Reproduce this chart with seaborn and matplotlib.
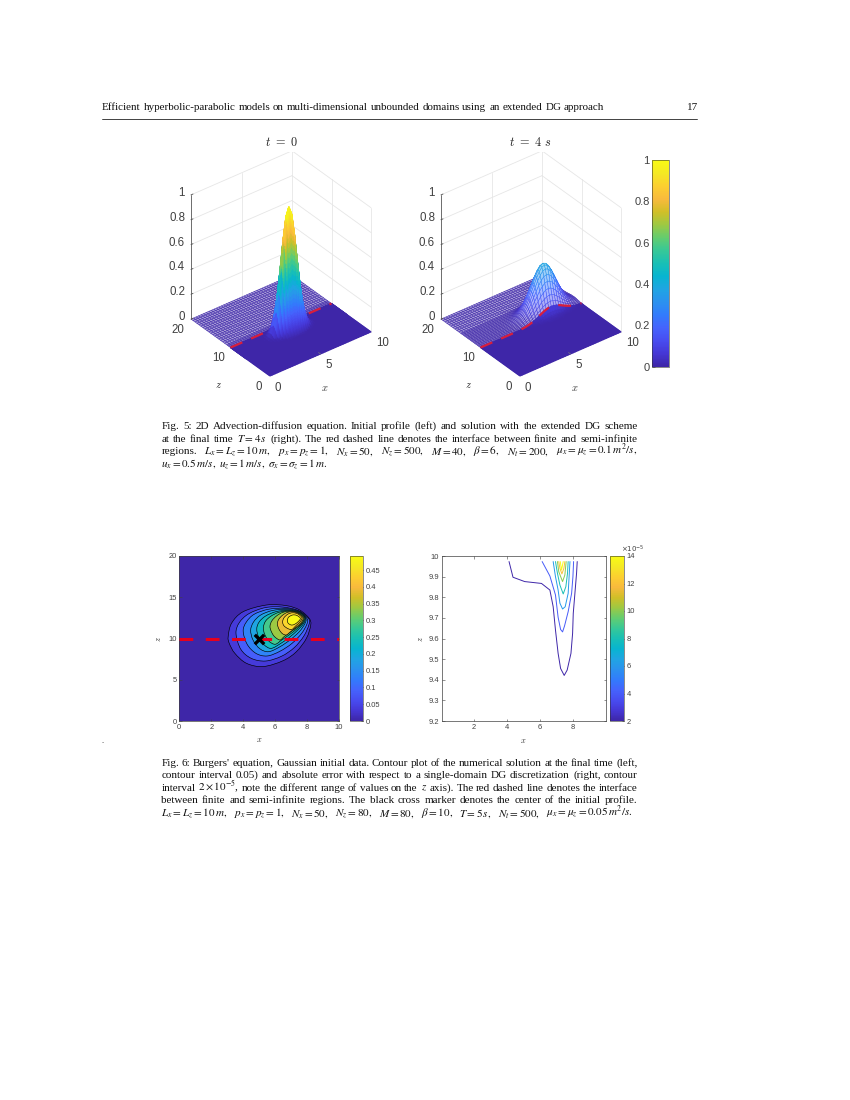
import numpy as np
import seaborn as sns
import matplotlib
matplotlib.use("Agg")
import matplotlib.pyplot as plt
from matplotlib.cm import ScalarMappable
from matplotlib.colors import LinearSegmentedColormap, Normalize
from matplotlib.patches import PathPatch
from matplotlib.path import Path
from mpl_toolkits.mplot3d import proj3d

# old parula, every 4th row of the matlab table
parula = LinearSegmentedColormap.from_list("parula", [
    (0.2422, 0.1504, 0.6603), (0.2706, 0.2147, 0.8364), (0.2813, 0.3006, 0.9414),
    (0.2699, 0.3892, 0.9906), (0.1963, 0.4847, 0.9892), (0.1687, 0.5703, 0.9359),
    (0.1248, 0.6459, 0.8883), (0.0297, 0.7082, 0.8163), (0.0964, 0.7500, 0.7120),
    (0.2161, 0.7843, 0.5923), (0.3909, 0.8029, 0.4354), (0.6174, 0.7876, 0.2612),
    (0.8203, 0.7498, 0.1535), (0.9728, 0.7298, 0.2394), (0.9892, 0.8136, 0.1885),
    (0.9597, 0.9135, 0.1423), (0.9769, 0.9839, 0.0805)])

# fig 5 surfaces, x and z profiles on the mesh nodes
x_nodes = np.arange(41) * 0.25
z_nodes_t0 = np.concatenate([np.arange(24) * 0.25, 6 + np.arange(81) * 0.05,
                             [10.25, 10.5, 10.75], 11 + np.arange(19) * 0.5])
z_nodes_t4 = np.concatenate([np.arange(61) * 0.25, 15.5 + np.arange(10) * 0.5])

u0_x = [0, 0, 0, 0, 0, 0, 0, 0, 0, .001, .002, .006, .018, .047, .105, .210, .368, .570, .779, .939, 1,
        .939, .779, .570, .368, .210, .105, .047, .018, .006, .002, .001, 0, 0, 0, 0, 0, 0, 0, 0, 0]
u0_rise = [.018, .022, .027, .033, .039, .047, .056, .066, .077, .090, .105, .122, .141, .162, .185, .210,
           .237, .266, .298, .332, .368, .406, .445, .486, .527, .570, .613, .655, .698, .739, .779, .817,
           .852, .885, .914, .939, .961, .978, .990, .9975, 1]
u0_z = [0] * 21 + [.001, .002, .006] + u0_rise + u0_rise[-2::-1] + [.006, .002, .001] + [0] * 19

u4_x = [0, 0, 0, 0, 0, 0, 0, 0, 0, 0, 0, .001, .002, .0045, .009, .017, .031, .055, .090, .143, .215,
        .308, .421, .548, .681, .806, .908, .976, 1, .976, .908, .806, .681, .548, .421, .308, .215,
        .143, .090, .055, .031]
u4_z = [0] * 31 + [0, .001, .002, .003, .007, .012, .021, .035, .055, .083,
                   .119, .162, .211, .262, .310, .350, .376, .385, .376, .350, .310, .262, .211, .162,
                   .119, .083, .055, .035, .021, .012, .003, .001, 0, 0, 0, 0, 0, 0, 0, 0]

z_ticks_up = [0, 0.2, 0.4, 0.6, 0.8, 1]

# fig 6 left, contour outlines (x, z)
c00 = [(3.06, 10.22), (3.27, 11.84), (4.0, 13.25), (5.46, 14.06), (6.71, 13.98), (7.54, 13.45), (8.13, 12.44),
       (8.23, 11.64), (7.96, 10.02), (7.33, 8.40), (6.5, 7.31), (5.25, 6.60), (4.21, 6.99), (3.48, 8.2), (3.13, 9.41)]
c05 = [(3.55, 10.6), (3.75, 11.9), (4.35, 13.0), (5.4, 13.75), (6.5, 13.8), (7.5, 13.35), (8.1, 12.4),
       (8.12, 11.7), (7.8, 10.3), (7.2, 8.9), (6.4, 7.85), (5.4, 7.27), (4.5, 7.6), (3.85, 8.7)]
c10 = [(4.0, 10.9), (4.2, 12.0), (4.7, 12.95), (5.6, 13.55), (6.6, 13.65), (7.5, 13.3), (8.0, 12.4),
       (7.98, 11.7), (7.65, 10.6), (7.05, 9.4), (6.3, 8.45), (5.5, 7.88), (4.8, 8.2), (4.25, 9.3)]
c15 = [(4.47, 11.0), (4.65, 12.0), (5.1, 12.85), (5.85, 13.4), (6.7, 13.52), (7.5, 13.25), (7.92, 12.45),
       (7.85, 11.75), (7.5, 10.8), (6.95, 9.85), (6.3, 9.0), (5.6, 8.4), (5.05, 8.75), (4.62, 9.8)]
c20 = [(4.85, 11.15), (5.0, 12.0), (5.4, 12.72), (6.05, 13.25), (6.8, 13.42), (7.5, 13.2), (7.88, 12.5),
       (7.78, 11.8), (7.4, 11.0), (6.9, 10.15), (6.35, 9.4), (5.75, 8.8), (5.3, 9.25), (4.98, 10.1)]
c25 = [(5.26, 11.3), (5.4, 12.1), (5.75, 12.72), (6.25, 13.18), (6.88, 13.36), (7.48, 13.15), (7.85, 12.52),
       (7.72, 11.85), (7.35, 11.15), (6.85, 10.4), (6.4, 9.8), (6.0, 9.3), (5.6, 9.7), (5.35, 10.5)]
c30 = [(5.68, 11.5), (5.8, 12.15), (6.1, 12.75), (6.5, 13.18), (7.0, 13.3), (7.45, 13.1), (7.8, 12.52),
       (7.67, 11.85), (7.3, 11.25), (6.9, 10.7), (6.55, 10.2), (6.3, 9.82), (5.95, 10.25), (5.75, 10.9)]
c35 = [(6.14, 11.75), (6.22, 12.3), (6.45, 12.8), (6.75, 13.15), (7.1, 13.24), (7.45, 13.05), (7.75, 12.5),
       (7.62, 11.9), (7.3, 11.35), (6.95, 10.8), (6.7, 10.43), (6.45, 10.6), (6.25, 11.1)]
c40 = [(6.47, 12.0), (6.55, 12.5), (6.8, 12.95), (7.1, 13.12), (7.42, 12.98), (7.68, 12.5), (7.55, 12.0),
       (7.3, 11.55), (7.05, 11.1), (6.8, 11.2), (6.55, 11.55)]
c45 = [(6.77, 12.2), (6.85, 12.6), (7.1, 12.85), (7.35, 12.8), (7.58, 12.45), (7.45, 12.05), (7.2, 11.7),
       (7.0, 11.64), (6.82, 11.85)]
filled_levels = [0, .05, .10, .15, .20, .25, .30, .35, .40, .45]
filled_outlines = [c00, c05, c10, c15, c20, c25, c30, c35, c40, c45]

# fig 6 right, error contours (x, z)
e2 = [(4.13, 9.973), (4.37, 9.897), (5.08, 9.876), (6.10, 9.867), (6.61, 9.835), (6.81, 9.754), (6.95, 9.641),
      (7.11, 9.528), (7.26, 9.455), (7.48, 9.421), (7.66, 9.447), (7.89, 9.528), (7.99, 9.625), (8.03, 9.722),
      (8.13, 9.819), (8.23, 9.916), (8.27, 9.973)]
e4 = [(6.14, 9.973), (6.61, 9.903), (6.95, 9.811), (7.11, 9.703), (7.26, 9.644), (7.38, 9.632), (7.50, 9.661),
      (7.72, 9.730), (7.93, 9.819), (8.01, 9.900), (8.05, 9.973)]
e6 = [(6.81, 9.973), (6.95, 9.900), (7.11, 9.835), (7.22, 9.771), (7.38, 9.743), (7.54, 9.754), (7.72, 9.819),
      (7.83, 9.973)]
e8 = [(6.95, 9.973), (7.07, 9.916), (7.22, 9.859), (7.42, 9.816), (7.58, 9.851), (7.68, 9.916), (7.72, 9.973)]
e10 = [(7.07, 9.973), (7.15, 9.924), (7.38, 9.876), (7.52, 9.908), (7.60, 9.973)]
e12 = [(7.15, 9.973), (7.22, 9.940), (7.34, 9.913), (7.46, 9.940), (7.52, 9.973)]
e14 = [(7.24, 9.973), (7.32, 9.932), (7.42, 9.973)]
error_levels = [2, 4, 6, 8, 10, 12, 14]
error_lines = [e2, e4, e6, e8, e10, e12, e14]

header = "Efficient hyperbolic-parabolic models on multi-dimensional unbounded domains using an extended DG approach"
caption5 = [
    r"Fig. 5: 2D Advection-diffusion equation. Initial profile (left) and solution with the extended DG scheme",
    r"at the final time $T=4\,s$ (right). The red dashed line denotes the interface between finite and semi-infinite",
    r"regions. $L_x=L_z=10\,m,$ $p_x=p_z=1,$ $N_x=50,$ $N_z=500,$ $M=40,$ $\beta=6,$ $N_t=200,$ $\mu_x=\mu_z=0.1\,m^2/s,$",
    r"$u_x=0.5\,m/s,$ $u_z=1\,m/s,$ $\sigma_x=\sigma_z=1\,m.$",
]
caption6 = [
    r"Fig. 6: Burgers' equation, Gaussian initial data. Contour plot of the numerical solution at the final time (left,",
    r"contour interval 0.05) and absolute error with respect to a single-domain DG discretization (right, contour",
    r"interval $2\times10^{-5}$, note the different range of values on the $z$ axis). The red dashed line denotes the interface",
    r"between finite and semi-infinite regions. The black cross marker denotes the center of the initial profile.",
    r"$L_x=L_z=10\,m,$ $p_x=p_z=1,$ $N_x=50,$ $N_z=80,$ $M=80,$ $\beta=10,$ $T=5\,s,$ $N_t=500,$ $\mu_x=\mu_z=0.05\,m^2/s.$",
]

sns.set_theme(style="white")
plt.rcParams["font.family"] = ["Liberation Sans", "DejaVu Sans"]
plt.rcParams["mathtext.fontset"] = "stix"

W, H = 850, 1100
TICK = "#404040"
fig = plt.figure(figsize=(W / 100, H / 100), dpi=100, facecolor="white")

page = fig.add_axes([0, 0, 1, 1], zorder=10)
page.set_xlim(0, W)
page.set_ylim(H, 0)
page.set_axis_off()
page.patch.set_alpha(0)
renderer = fig.canvas.get_renderer()


def rect(left, top, right, bottom):
    return [left / W, 1 - bottom / H, (right - left) / W, (bottom - top) / H]


def line_of_text(text, y, left, right, size=8.0, justify=True):
    words = text.split(" ")
    items = [page.text(left, y, w, family="Liberation Serif", fontsize=size, color="#111111",
                       va="baseline", ha="left") for w in words]
    widths = [t.get_window_extent(renderer).width for t in items]
    gap = (right - left - sum(widths)) / (len(words) - 1) if justify else 2.6
    pos = left
    for t, w in zip(items, widths):
        t.set_x(pos)
        pos += w + gap


def to_px(ax, x, y, z):
    xs, ys, _ = proj3d.proj_transform(x, y, z, ax.get_proj())
    dx, dy = ax.transData.transform((xs, ys))
    return dx, H - dy


def fit_box(ax, origin, left_corner, right_corner):
    # scale the square 3d axes so its floor corners land where the page has them
    size = 400.0
    ax.set_position(rect(100, 100, 100 + size, 100 + size))
    x_l = to_px(ax, 0, 20, 0)[0]
    x_r = to_px(ax, 10, 0, 0)[0]
    size *= (right_corner[0] - left_corner[0]) / (x_r - x_l)
    ax.set_position(rect(100, 100, 100 + size, 100 + size))
    ox, oy = to_px(ax, 0, 0, 0)
    left = 100 + origin[0] - ox
    top = 100 + origin[1] - oy
    ax.set_position(rect(left, top, left + size, top + size))


def surface_panel(u_x, u_z, z_nodes, origin, title, title_x, hidden):
    ax = fig.add_axes([.1, .1, .4, .4 * W / H], projection="3d", computed_zorder=False, proj_type="ortho")
    ax.set_facecolor("none")
    ax.set_axis_off()
    ax.view_init(elev=34.1, azim=-127.9)
    ax.set_box_aspect((128, 128.6, 150))

    # walls
    grid = "#e6e6e6"
    for level in z_ticks_up[1:]:
        ax.plot([0, 10], [20, 20], [level, level], color=grid, lw=.6, zorder=1)
        ax.plot([10, 10], [20, 0], [level, level], color=grid, lw=.6, zorder=1)
    for gx, gz in [(5, 20), (10, 20), (10, 10), (10, 0)]:
        ax.plot([gx, gx], [gz, gz], [0, 1], color=grid, lw=.6, zorder=1)

    X, Z = np.meshgrid(x_nodes, z_nodes)
    U = np.outer(u_z, u_x)
    cell = (U[:-1, :-1] + U[1:, :-1] + U[:-1, 1:] + U[1:, 1:]) / 4
    cell = np.pad(cell, ((0, 1), (0, 1)), mode="edge")
    edges = parula(np.clip(cell, 0, 1))
    i10 = np.argmin(np.abs(z_nodes - 10))

    # sparse part behind the interface: mesh lines, tinted faces stand in for the unresolved lines
    back_faces = .55 + .45 * edges[i10:]
    back_faces[..., 3] = 1
    back = ax.plot_surface(X[i10:], Z[i10:], U[i10:], rstride=1, cstride=1, facecolors=back_faces,
                           shade=False, linewidth=.35, zorder=2)
    back.set_edgecolor(edges[i10:][:-1, :-1].reshape(-1, 4))

    # dense part in front of it reads as solid
    front = ax.plot_surface(X[:i10 + 1], Z[:i10 + 1], U[:i10 + 1], rstride=1, cstride=1,
                            facecolors=edges[:i10 + 1], shade=False, linewidth=.8, zorder=2.5)
    front.set_edgecolor(edges[:i10 + 1][:-1, :-1].reshape(-1, 4))

    # interface z = 10, part of it sits behind the peak at t = 0
    red_u = U[i10].copy()
    red_u[(x_nodes > hidden[0]) & (x_nodes < hidden[1])] = np.nan
    ax.plot(x_nodes, np.full_like(x_nodes, 10.0), red_u, color="#d81e3c", lw=1.6, zorder=3,
            dashes=(5.8, 4.3))

    # z axis and its ticks
    ax.plot([0, 0], [20, 20], [0, 1], color="#555555", lw=.6, zorder=4)
    for level in z_ticks_up:
        ax.plot([0, .2], [20, 20], [level, level], color="#555555", lw=.6, zorder=4)
    for tx in [5]:
        ax.plot([tx, tx], [0, .5], [0, 0], color="#777777", lw=.5, zorder=4)

    ax.set_xlim(0, 10)
    ax.set_ylim(0, 20)
    ax.set_zlim(0, 1)
    fit_box(ax, origin, (origin[0] - 79, origin[1] - 57), (origin[0] + 101, origin[1] - 44))

    font = dict(fontsize=8.3, color=TICK, va="center", family="Liberation Sans")
    for level in z_ticks_up:
        px, py = to_px(ax, 0, 20, level)
        page.text(px - 6, py - 2, f"{level:g}", ha="right", **font)
    for tz, off in [(20, -13), (10, -12), (0, -11)]:
        px, py = to_px(ax, 0, tz, 0)
        page.text(px + off, py + 10.5, f"{tz}", ha="center", **font)
    for tx, off in [(0, 7.5), (5, 8.5), (10, 12)]:
        px, py = to_px(ax, tx, 0, 0)
        page.text(px + off, py + 11.5, f"{tx}", ha="center", **font)

    page.text(title_x, 143, title, fontsize=8.8, ha="center", va="center", color="#222222", math_fontfamily="cm")
    page.text(origin[0] - 52, 385, "$z$", fontsize=7.5, ha="center", va="center", color="#333333", math_fontfamily="cm")
    page.text(origin[0] + 55, 388, "$x$", fontsize=7.5, ha="center", va="center", color="#333333", math_fontfamily="cm")
    return ax


surface_panel(u0_x, u0_z, z_nodes_t0, (270, 376), r"$t\ =\ 0$", 281.5, (3.55, 7.6))
surface_panel(u4_x, u4_z, z_nodes_t4, (520, 376), r"$t\ =\ 4\ s$", 530, (20, 21))


def colorbar(box, vmin, vmax, ticks, labels, side, size):
    cax = fig.add_axes(rect(*box))
    cb = fig.colorbar(ScalarMappable(Normalize(vmin, vmax), parula), cax=cax)
    cax.yaxis.set_ticks_position(side)
    cax.set_yticks(ticks, labels)
    cax.tick_params(axis="y", direction="in", length=1.8, width=.4, pad=2, labelsize=size, colors=TICK)
    cax.minorticks_off()
    cb.outline.set_linewidth(.4)
    cb.outline.set_edgecolor("#333333")
    return cax


colorbar((652.3, 160, 669, 366.7), 0, 1, z_ticks_up, [f"{t:g}" for t in z_ticks_up], "left", 8.0)


def frame(ax):
    for sp in ax.spines.values():
        sp.set_visible(True)
        sp.set_linewidth(.5)
        sp.set_color("#404040")
    ax.tick_params(direction="in", length=1.8, width=.4, pad=2, labelsize=5.4, colors=TICK,
                   bottom=True, left=True, top=True, right=True)
    ax.set_xlabel("")
    ax.set_ylabel("")


def smooth_closed(points):
    p = np.array(points, dtype=float)
    n = len(p)
    verts = [p[0]]
    codes = [Path.MOVETO]
    for i in range(n):
        p0, p1, p2, p3 = p[i - 1], p[i], p[(i + 1) % n], p[(i + 2) % n]
        verts += [p1 + (p2 - p0) / 6, p2 - (p3 - p1) / 6, p2]
        codes += [Path.CURVE4] * 3
    return Path(verts, codes)


# fig 6 left
ax_l = fig.add_axes(rect(179.3, 556, 339, 721))
ax_l.set_facecolor(parula(0.0))
for level, outline in zip(filled_levels, filled_outlines):
    ax_l.add_patch(PathPatch(smooth_closed(outline), facecolor=parula(min((level + .035) / .49, 1)),
                             edgecolor="black", lw=.45, zorder=2))
sns.lineplot(x=[0, 10], y=[10, 10], color="#e6001e", lw=2.2, dashes=(4.5, 4.1), ax=ax_l, legend=False,
             zorder=3, estimator=None, sort=False)
sns.scatterplot(x=[5], y=[10], marker="x", s=46, color="black", linewidth=2.4, ax=ax_l, zorder=4, legend=False)
ax_l.set_xlim(0, 10)
ax_l.set_ylim(0, 20)
ax_l.set_xticks([0, 2, 4, 6, 8, 10])
ax_l.set_yticks([0, 5, 10, 15, 20])
frame(ax_l)
left_ticks = filled_levels
colorbar((350, 556, 363.3, 721), 0, .492, left_ticks, [f"{t:g}" for t in left_ticks], "right", 5.4)

# fig 6 right
ax_r = fig.add_axes(rect(441.7, 556, 605.7, 721))
for level, pts in zip(error_levels, error_lines):
    xs, zs = zip(*pts)
    sns.lineplot(x=list(xs), y=list(zs), color=parula((level - 2) / 12), lw=.7, ax=ax_r, legend=False,
                 estimator=None, sort=False)
ax_r.set_xlim(0.04, 10)
ax_r.set_ylim(9.2, 10)
ax_r.set_xticks([2, 4, 6, 8])
ax_r.set_yticks(np.arange(9.2, 10.05, .1), ["9.2", "9.3", "9.4", "9.5", "9.6", "9.7", "9.8", "9.9", "10"])
frame(ax_r)
colorbar((610.3, 556, 623.7, 721), 2, 14, error_levels, [str(t) for t in error_levels], "right", 5.4)
page.text(633, 549, r"$\times10^{-5}$", fontsize=5, ha="center", va="center", color=TICK, math_fontfamily="dejavusans")

small = dict(fontsize=6, ha="center", va="center", color="#333333", math_fontfamily="cm")
page.text(259.3, 740, "$x$", **small)
page.text(159, 638.7, "$z$", rotation=90, **small)
page.text(523.3, 740.7, "$x$", **small)
page.text(420.7, 638.7, "$z$", rotation=90, **small)
page.text(103, 741, ".", fontsize=6, ha="center", va="center", color="#333333", family="Liberation Serif")

# running head
line_of_text(header, 110, 102, 604.5, size=7.95)
page.text(697, 110, "17", family="Liberation Serif", fontsize=8.1, ha="right", va="baseline", color="#111111")
page.plot([102, 697], [119, 119], color="#222222", lw=.6)

# captions
for row, text in enumerate(caption5):
    line_of_text(text, 429 + row * 12.6, 161.5, 637.5, justify=row < 3)
for row, text in enumerate(caption6):
    line_of_text(text, 765.5 + row * 12.65, 161.5, 637.5 if row < 4 else 633)

fig.savefig("out.png", dpi=100, facecolor="white")
